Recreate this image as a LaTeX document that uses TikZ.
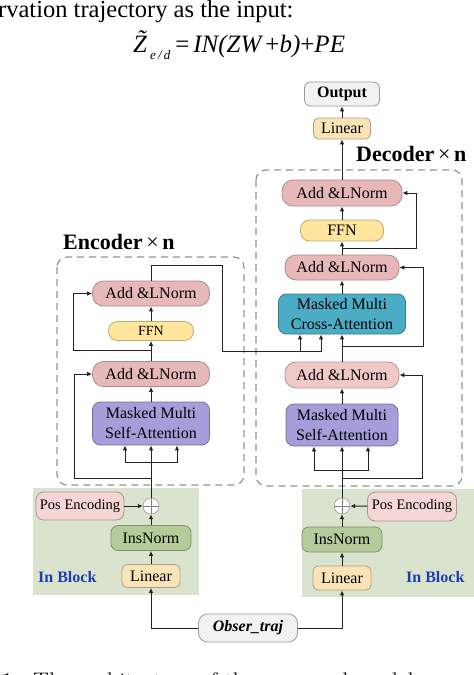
\documentclass[tikz,border=0pt]{standalone}
\usepackage{fontspec}
\newfontfamily\timesfont{Liberation Serif}
\usetikzlibrary{arrows.meta}

\definecolor{normpink}{HTML}{E6B8B7}
\definecolor{normpinklt}{HTML}{F0C9C7}
\definecolor{ffnyellow}{HTML}{FFE69C}
\definecolor{linyellow}{HTML}{FBE3B8}
\definecolor{attnpurple}{HTML}{A59EDB}
\definecolor{crossteal}{HTML}{4BACC6}
\definecolor{insgreen}{HTML}{B5CC9A}
\definecolor{blockgreen}{HTML}{D9E3CD}
\definecolor{pospink}{HTML}{F5D5D5}
\definecolor{outgray}{HTML}{F2F2F2}
\definecolor{blocktext}{HTML}{1F3FAF}
\definecolor{linecol}{HTML}{222222}

\begin{document}
\begin{tikzpicture}[x=1pt, y=-1pt, font=\timesfont\fontsize{16}{20}\selectfont,
	blk/.style={shape=rectangle, rounded corners=6pt, inner sep=1pt, align=center, line width=0.8pt},
	addnorm/.style={blk, rounded corners=11pt, draw=normpink!75!black, fill=normpink, minimum width=117pt, minimum height=25pt},
	ffn/.style={blk, rounded corners=9pt, draw=ffnyellow!75!black, fill=ffnyellow, minimum width=85pt, minimum height=19pt},
	linear/.style={blk, rounded corners=5pt, draw=linyellow!70!black, fill=linyellow, minimum width=58pt, minimum height=23pt},
	attn/.style={blk, rounded corners=8pt, draw=attnpurple!70!black, fill=attnpurple, minimum width=117pt, minimum height=43pt},
	insnorm/.style={blk, rounded corners=7pt, draw=insgreen!70!black, fill=insgreen, minimum width=80pt, minimum height=25pt},
	posenc/.style={blk, rounded corners=8pt, draw=pospink!70!black, fill=pospink, minimum width=88pt, minimum height=28pt, font=\timesfont\fontsize{14.5}{16}\selectfont},
	adder/.style={circle, draw=gray, fill=white, minimum size=16pt, inner sep=0pt,
		path picture={\draw[gray] (path picture bounding box.north) -- (path picture bounding box.south) (path picture bounding box.west) -- (path picture bounding box.east);}},
	arr/.style={-{Latex[length=5pt,width=4.5pt]}, line width=0.9pt, draw=linecol},
	wire/.style={line width=0.9pt, draw=linecol},
	dashbox/.style={draw=gray!85, dash pattern=on 7pt off 5pt, line width=1.2pt, rounded corners=10pt},
	title/.style={anchor=base west, inner sep=0pt, font=\timesfont\bfseries\fontsize{22}{24}\selectfont},
	inblock/.style={anchor=base west, inner sep=0pt, text=blocktext, font=\timesfont\bfseries\fontsize{16}{18}\selectfont}]
	\useasboundingbox (0,0) rectangle (474,675);
	\clip (0,0) rectangle (474,675);

	% text of the page round the figure
	\node (pagetext) at (-2,17) [anchor=base west, inner sep=0pt, font=\timesfont\fontsize{24.5}{26}\selectfont] {rvation trajectory as the input:};
	\node (eqn) at (133,52) [anchor=base west, inner sep=0pt, font=\timesfont\itshape\fontsize{25}{26}\selectfont]
		{\~{Z}\hspace{3pt}\raisebox{-7pt}{\fontsize{13}{13}\selectfont e\,/\,d}\hspace{5pt}{\upshape =}\hspace{4pt}IN(ZW\hspace{4pt}{\upshape +}b){\upshape +}PE};
	\node (caption) at (0,689) [anchor=base west, inner sep=0pt, font=\normalfont\fontsize{24}{26}\selectfont] {\textbf{1.}\enspace The architecture of the proposed model};

	% in blocks and dashed frames
	\fill[blockgreen] (33,488) rectangle (199,595);
	\fill[blockgreen] (302,489) rectangle (474,597);
	\draw[dashbox] (57,257) rectangle (244,485);
	\draw[dashbox] (256,170) rectangle (462,486);
	\node (enctitle) at (63,249) [title] {Encoder\,{\mdseries ×}\,n};
	\node (dectitle) at (356,161) [title] {Decoder\,{\mdseries ×}\,n};

	% encoder
	\node (encadd1) at (151,293.5) [addnorm] {Add \&LNorm};
	\node (encffn) at (151,331) [ffn, font=\timesfont\fontsize{14}{16}\selectfont] {FFN};
	\node (encadd2) at (151,374) [addnorm] {Add \&LNorm};
	\node (encattn) at (151,423.5) [attn] {Masked Multi\\Self-Attention};
	\node (encsum) at (151,506) [adder] {};
	\node (encpos) at (80,506) [posenc] {Pos Encoding};
	\node (encins) at (151,538) [insnorm] {InsNorm};
	\node (enclin) at (151,576) [linear] {Linear};
	\node (encblock) at (38,582) [inblock] {In Block};

	% decoder
	\node (out) at (342,94) [blk, rounded corners=6pt, draw=gray!80, fill=outgray, minimum width=75pt, minimum height=24pt, font=\timesfont\bfseries\fontsize{16}{18}\selectfont] {Output};
	\node (declin) at (342,128.5) [linear, minimum width=57pt, minimum height=21pt] {Linear};
	\node (decadd1) at (342,193) [addnorm, minimum width=120pt, minimum height=26pt] {Add \&LNorm};
	\node (decffn) at (342,230.5) [ffn, minimum width=83pt, minimum height=21pt] {FFN};
	\node (decadd2) at (342,267.5) [addnorm, minimum width=114pt] {Add \&LNorm};
	\node (deccross) at (342,314) [attn, draw=crossteal!70!black, fill=crossteal, minimum width=127pt, minimum height=40pt] {Masked Multi\\Cross-Attention};
	\node (decadd3) at (342,375) [addnorm, draw=normpinklt!75!black, fill=normpinklt, minimum width=114pt, minimum height=26pt] {Add \&LNorm};
	\node (decattn) at (342,425) [attn, minimum width=112pt, minimum height=42pt] {Masked Multi\\Self-Attention};
	\node (decsum) at (342,506) [adder] {};
	\node (decpos) at (412,506.5) [posenc, minimum width=89pt, minimum height=29pt] {Pos Encoding};
	\node (decins) at (342,539.5) [insnorm] {InsNorm};
	\node (declin2) at (342,578) [linear, minimum height=24pt] {Linear};
	\node (decblock) at (406,582) [inblock] {In Block};

	% input
	\node (obs) at (248,628) [blk, rounded corners=9pt, draw=gray!80, fill=outgray, minimum width=99pt, minimum height=28pt, font=\timesfont\bfseries\itshape\fontsize{16}{18}\selectfont] {Obser\_traj};

	% encoder connectors
	\coordinate (encfork) at (151,462);
	\coordinate (encres1) at (151,478);
	\coordinate (encres2) at (151,350);
	\coordinate (encup) at (151,265);
	\coordinate (encdown) at (222,351);
	\draw[arr] (obs.west) -| (enclin.south);
	\draw[arr] (enclin) -- (encins);
	\draw[arr] (encins) -- (encsum);
	\draw[arr] (encpos) -- (encsum);
	\draw[wire] (encsum) -- (encfork);
	\draw[arr] (encfork) -| ([xshift=-26pt]encattn.south);
	\draw[arr] (encfork) -| ([xshift=26pt]encattn.south);
	\draw[arr] (encfork) -- (encattn);
	\draw[arr] (encres1) -| ([xshift=-18pt]encadd2.west) -- (encadd2.west);
	\draw[arr] (encattn) -- (encadd2);
	\draw[arr] (encadd2) -- (encffn);
	\draw[arr] (encres2) -| ([xshift=-19pt]encadd1.west) -- (encadd1.west);
	\draw[arr] (encffn) -- (encadd1);
	\draw[arr] (encadd1) -- (encup) -| (encdown) -| ([xshift=-21pt]deccross.south);
	\draw[arr] ([xshift=-42pt]deccross.south |- encdown) -- ([xshift=-42pt]deccross.south);

	% decoder connectors
	\coordinate (decfork) at (342,470);
	\coordinate (decres1) at (342,478);
	\coordinate (decres2) at (342,346);
	\coordinate (decres3) at (342,248);
	\draw[arr] (obs.east) -| (declin2.south);
	\draw[arr] (declin2) -- (decins);
	\draw[arr] (decins) -- (decsum);
	\draw[arr] (decpos) -- (decsum);
	\draw[wire] (decsum) -- (decfork);
	\draw[arr] (decfork) -| ([xshift=-28pt]decattn.south);
	\draw[arr] (decfork) -| ([xshift=26pt]decattn.south);
	\draw[arr] (decfork) -- (decattn);
	\draw[arr] (decres1) -| ([xshift=23pt]decadd3.east) -- (decadd3.east);
	\draw[arr] (decattn) -- (decadd3);
	\draw[arr] (decadd3) -- (deccross);
	\draw[arr] (decres2) -| ([xshift=24pt]decadd2.east) -- (decadd2.east);
	\draw[arr] (deccross) -- (decadd2);
	\draw[arr] (decadd2) -- (decffn);
	\draw[arr] (decres3) -| ([xshift=14pt]decadd1.east) -- (decadd1.east);
	\draw[arr] (decffn) -- (decadd1);
	\draw[arr] (decadd1) -- (declin);
	\draw[arr] (declin) -- (out);
\end{tikzpicture}
\end{document}
